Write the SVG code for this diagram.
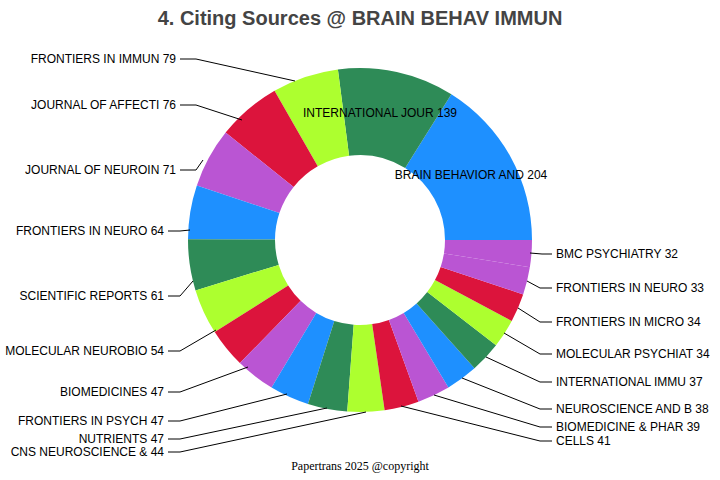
<svg xmlns="http://www.w3.org/2000/svg" width="720" height="480" viewBox="0 0 720 480">
<style>
.t{font-family:"Liberation Sans",Arial,sans-serif;font-size:12px;fill:#000}
.l{fill:none;stroke:#000;stroke-width:1}
.b{fill:#1E90FF}.g{fill:#2E8B57}.y{fill:#ADFF2F}.r{fill:#DC143C}.o{fill:#BA55D3}
</style>
<rect width="720" height="480" fill="#fff"/>
<text x="360" y="25" text-anchor="middle" style="font-family:'Liberation Sans',Arial,sans-serif;font-size:20px;font-weight:bold;fill:#444">4. Citing Sources @ BRAIN BEHAV IMMUN</text>
<g id="slices">
<path id="s1" class="b" d="M532,240 A172,172 0 0 0 451.35,94.26 L405.14,167.98 A85,85 0 0 1 445,240 Z"/>
<path id="s2" class="g" d="M451.35,94.26 A172,172 0 0 0 337.90,69.43 L349.08,155.71 A85,85 0 0 1 405.14,167.98 Z"/>
<path id="s3" class="y" d="M337.90,69.43 A172,172 0 0 0 274.53,90.74 L317.76,166.24 A85,85 0 0 1 349.08,155.71 Z"/>
<path id="s4" class="r" d="M274.53,90.74 A172,172 0 0 0 225.63,132.62 L293.60,186.93 A85,85 0 0 1 317.76,166.24 Z"/>
<path id="s5" class="o" d="M225.63,132.62 A172,172 0 0 0 196.84,185.54 L279.37,213.09 A85,85 0 0 1 293.60,186.93 Z"/>
<path id="s6" class="b" d="M196.84,185.54 A172,172 0 0 0 188.00,239.15 L275.00,239.58 A85,85 0 0 1 279.37,213.09 Z"/>
<path id="s7" class="g" d="M188.00,239.15 A172,172 0 0 0 195.53,290.38 L278.72,264.90 A85,85 0 0 1 275.00,239.58 Z"/>
<path id="s8" class="y" d="M195.53,290.38 A172,172 0 0 0 214.71,332.07 L288.20,285.50 A85,85 0 0 1 278.72,264.90 Z"/>
<path id="s9" class="r" d="M214.71,332.07 A172,172 0 0 0 239.89,363.12 L300.64,300.84 A85,85 0 0 1 288.20,285.50 Z"/>
<path id="s10" class="o" d="M239.89,363.12 A172,172 0 0 0 271.56,387.52 L316.29,312.90 A85,85 0 0 1 300.64,300.84 Z"/>
<path id="s11" class="b" d="M271.56,387.52 A172,172 0 0 0 307.99,403.95 L334.30,321.02 A85,85 0 0 1 316.29,312.90 Z"/>
<path id="s12" class="g" d="M307.99,403.95 A172,172 0 0 0 347.24,411.52 L353.69,324.76 A85,85 0 0 1 334.30,321.02 Z"/>
<path id="s13" class="y" d="M347.24,411.52 A172,172 0 0 0 384.63,410.23 L372.17,324.12 A85,85 0 0 1 353.69,324.76 Z"/>
<path id="s14" class="r" d="M384.63,410.23 A172,172 0 0 0 418.48,401.75 L388.90,319.93 A85,85 0 0 1 372.17,324.12 Z"/>
<path id="s15" class="o" d="M418.48,401.75 A172,172 0 0 0 448.44,387.52 L403.71,312.90 A85,85 0 0 1 388.90,319.93 Z"/>
<path id="s16" class="b" d="M448.44,387.52 A172,172 0 0 0 474.50,368.35 L416.58,303.43 A85,85 0 0 1 403.71,312.90 Z"/>
<path id="s17" class="g" d="M474.50,368.35 A172,172 0 0 0 496.03,345.25 L427.23,292.01 A85,85 0 0 1 416.58,303.43 Z"/>
<path id="s18" class="y" d="M496.03,345.25 A172,172 0 0 0 511.72,321.01 L434.98,280.04 A85,85 0 0 1 427.23,292.01 Z"/>
<path id="s19" class="r" d="M511.72,321.01 A172,172 0 0 0 523.16,294.42 L440.63,266.89 A85,85 0 0 1 434.98,280.04 Z"/>
<path id="s20" class="o" d="M523.16,294.42 A172,172 0 0 0 529.85,267.16 L443.94,253.42 A85,85 0 0 1 440.63,266.89 Z"/>
<path id="s21" class="o" d="M529.85,267.16 A172,172 0 0 0 532,240 L445,240 A85,85 0 0 1 443.94,253.42 Z"/>
</g>
<g id="connectors">
<polyline class="l" points="180,59 196,59 295,81"/>
<polyline class="l" points="180,105 196,105 242,120"/>
<polyline class="l" points="180,170 196,170 203,160"/>
<polyline class="l" points="168,231 180,231 190,230"/>
<polyline class="l" points="168,296 180,296 193,281"/>
<polyline class="l" points="168,351 180,351 216,330"/>
<polyline class="l" points="168,392 180,392 248,367"/>
<polyline class="l" points="168,421 180,421 287,394"/>
<polyline class="l" points="168,439 180,439 327,408"/>
<polyline class="l" points="168,452 180,452 366,412"/>
<polyline class="l" points="530,253 542,254 552,254"/>
<polyline class="l" points="527,281 540,288 552,288"/>
<polyline class="l" points="518,308 540,322 552,322"/>
<polyline class="l" points="504,333 540,354 552,354"/>
<polyline class="l" points="486,357 540,382 552,382"/>
<polyline class="l" points="462,378 540,409 552,409"/>
<polyline class="l" points="434,395 540,427 552,427"/>
<polyline class="l" points="401,406 540,441 552,441"/>
</g>
<g id="labels">
<text class="t" x="471" y="179" text-anchor="middle">BRAIN BEHAVIOR AND 204</text>
<text class="t" x="380" y="117" text-anchor="middle">INTERNATIONAL JOUR 139</text>
<text class="t" x="176" y="63" text-anchor="end">FRONTIERS IN IMMUN 79</text>
<text class="t" x="176" y="109" text-anchor="end">JOURNAL OF AFFECTI 76</text>
<text class="t" x="176" y="174" text-anchor="end">JOURNAL OF NEUROIN 71</text>
<text class="t" x="164" y="235" text-anchor="end">FRONTIERS IN NEURO 64</text>
<text class="t" x="164" y="300" text-anchor="end">SCIENTIFIC REPORTS 61</text>
<text class="t" x="164" y="355" text-anchor="end">MOLECULAR NEUROBIO 54</text>
<text class="t" x="164" y="396" text-anchor="end">BIOMEDICINES 47</text>
<text class="t" x="164" y="425" text-anchor="end">FRONTIERS IN PSYCH 47</text>
<text class="t" x="164" y="443" text-anchor="end">NUTRIENTS 47</text>
<text class="t" x="164" y="456" text-anchor="end">CNS NEUROSCIENCE &amp; 44</text>
<text class="t" x="556" y="258">BMC PSYCHIATRY 32</text>
<text class="t" x="556" y="292">FRONTIERS IN NEURO 33</text>
<text class="t" x="556" y="326">FRONTIERS IN MICRO 34</text>
<text class="t" x="556" y="358">MOLECULAR PSYCHIAT 34</text>
<text class="t" x="556" y="386">INTERNATIONAL IMMU 37</text>
<text class="t" x="556" y="413">NEUROSCIENCE AND B 38</text>
<text class="t" x="556" y="431">BIOMEDICINE &amp; PHAR 39</text>
<text class="t" x="556" y="445">CELLS 41</text>
</g>
<text x="360" y="470" text-anchor="middle" style="font-family:'Liberation Serif','Times New Roman',serif;font-size:12px;fill:#000">Papertrans 2025 @copyright</text>
</svg>
